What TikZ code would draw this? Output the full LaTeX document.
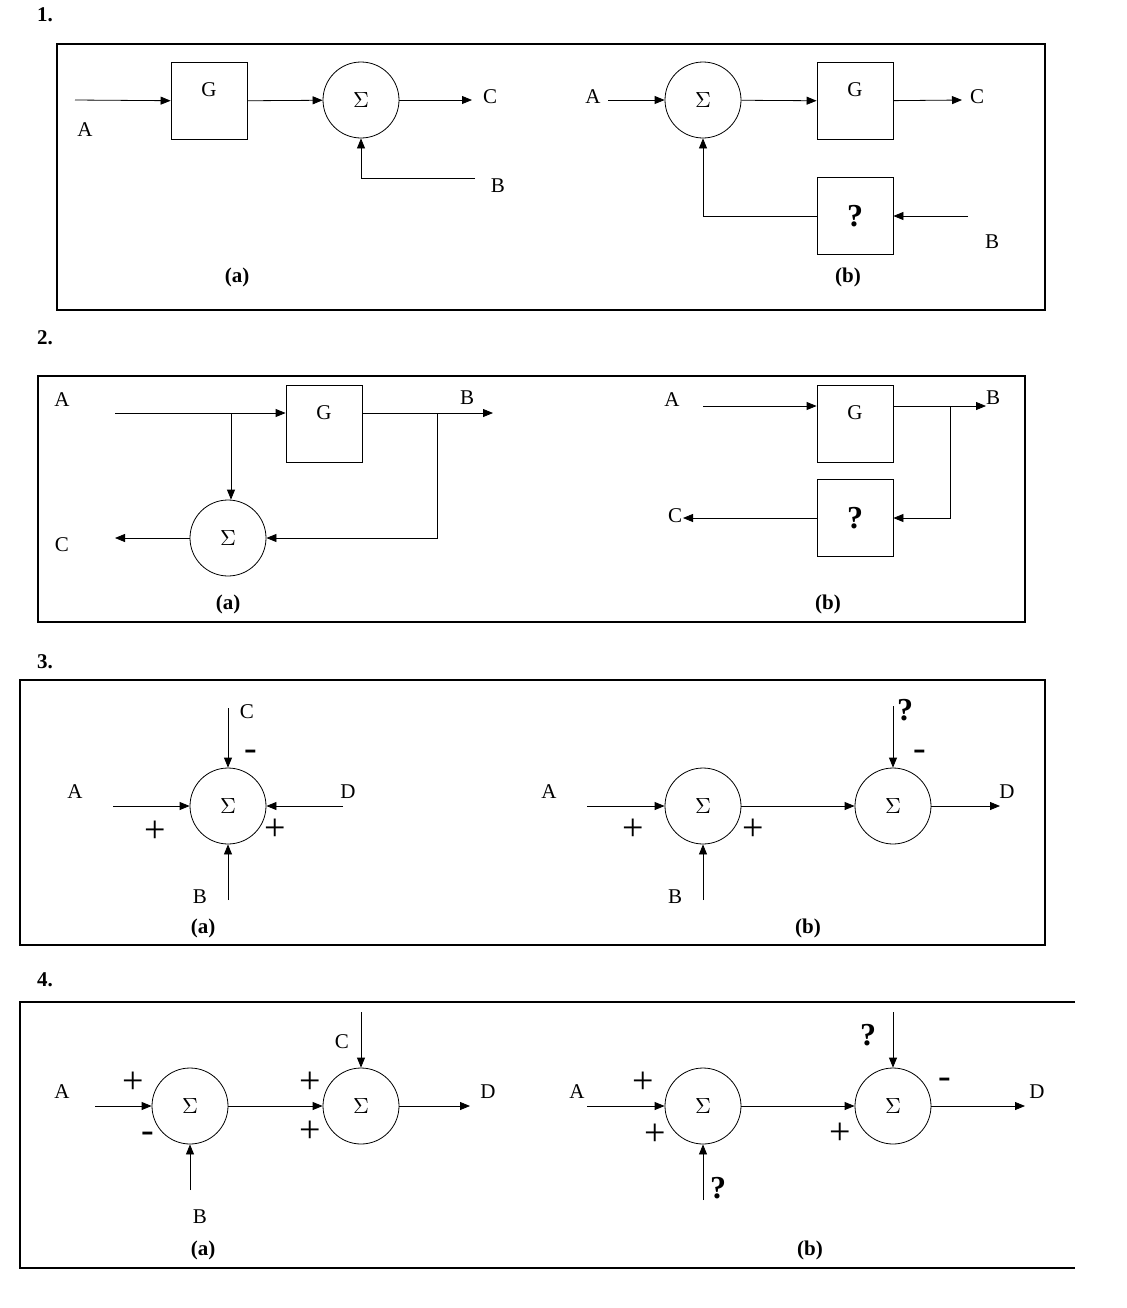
\documentclass[tikz,border=0pt]{standalone}
\usepackage{fontspec}
\setmainfont{Liberation Serif}
\usetikzlibrary{arrows.meta}
\begin{document}
\begin{tikzpicture}[x=0.5pt,y=-0.5pt,
 every node/.style={font=\fontsize{10.5}{12}\selectfont},
 blk/.style={draw,minimum width=38pt,minimum height=38.5pt,inner sep=0pt},
 gblk/.style={blk,text depth=0pt,label={[font=\fontsize{10.5}{12}\selectfont,yshift=-21pt]above:G}},
 sum/.style={draw,circle,minimum size=38pt,inner sep=0pt},
 ar/.style={-{Triangle[length=5pt,width=4pt]}},
 lbl/.style={font=\fontsize{10.5}{12}\selectfont\bfseries},
 pm/.style={font=\fontsize{19}{19}\selectfont,inner sep=0pt},
 q/.style={font=\fontsize{16}{16}\selectfont\bfseries,inner sep=0pt},
 frame/.style={draw,line width=0.6pt}]
\useasboundingbox (0,0) rectangle (1126,1308);
% ---- 1
\node[lbl] (n1) at (45,15) {1.};
\draw[frame] (57,44) rectangle (1045,310);
\node[gblk] (g1) at (209,101) {};
\node[sum] (s1) at (361,100) {$\Sigma$};
\coordinate (a1) at (75,100); \node (la1) at (85,130) {A};
\draw[ar] (a1) -- (g1);
\draw[ar] (g1) -- (s1);
\coordinate (c1) at (472,100); \node (lc1) at (490,97) {C};
\draw[ar] (s1) -- (c1);
\coordinate (b1) at (475,178); \node (lb1) at (498,186) {B};
\draw[ar] (b1) -| (s1.south);
\node[lbl] (ca1) at (237,277) {(a)};
\node (la2) at (593,97) {A};
\coordinate (a2) at (608,100);
\node[sum] (s2) at (703,100) {$\Sigma$};
\node[gblk] (g2) at (855,101) {};
\node[blk] (q2) at (855,216) {\fontsize{16}{16}\selectfont\bfseries ?};
\draw[ar] (a2) -- (s2);
\draw[ar] (s2) -- (g2);
\coordinate (c2) at (962,100); \node (lc2) at (977,97) {C};
\draw[ar] (g2) -- (c2);
\coordinate (b2) at (968,216); \node (lb2) at (992,242) {B};
\draw[ar] (b2) -- (q2);
\draw[ar] (q2) -| (s2.south);
\node[lbl] (cb1) at (848,277) {(b)};
% ---- 2
\node[lbl] (n2) at (45,338) {2.};
\draw[frame] (38,376) rectangle (1025,622);
\node (la3) at (62,400) {A};
\coordinate (a3) at (115,413);
\node[gblk] (g3) at (324,424) {};
\coordinate (j3) at (231,413);
\coordinate (k3) at (437,413);
\node[sum] (s3) at (228,538) {$\Sigma$};
\draw[ar] (a3) -- (g3.west|-a3);
\coordinate (b3) at (493,413); \node (lb3) at (467,398) {B};
\draw[ar] (g3.east|-a3) -- (b3);
\draw[ar] (j3) -- (j3|-s3.north);
\draw[ar] (k3) |- (s3);
\coordinate (c3) at (115,538); \node (lc3) at (62,545) {C};
\draw[ar] (s3) -- (c3);
\node[lbl] (ca2) at (228,604) {(a)};
\node (la4) at (672,400) {A};
\coordinate (a4) at (703,406);
\node[gblk] (g4) at (855,424) {};
\node[blk] (q4) at (855,518) {\fontsize{16}{16}\selectfont\bfseries ?};
\draw[ar] (a4) -- (g4.west|-a4);
\coordinate (b4) at (986,406); \node (lb4) at (993,398) {B};
\draw[ar] (g4.east|-a4) -- (b4);
\coordinate (j4) at (950,406);
\draw[ar] (j4) |- (q4);
\coordinate (c4) at (683,518); \node (lc4) at (675,516) {C};
\draw[ar] (q4) -- (c4);
\node[lbl] (cb2) at (828,604) {(b)};
% ---- 3
\node[lbl] (n3) at (45,662) {3.};
\draw[frame] (20,680) rectangle (1045,945);
\node[sum] (s5) at (228,806) {$\Sigma$};
\coordinate (c5) at (228,708); \node (lc5) at (247,712) {C};
\draw[ar] (c5) -- (s5);
\node[pm] (m5) at (251,755) {-};
\coordinate (a5) at (113,806); \node (la5) at (75,792) {A};
\draw[ar] (a5) -- (s5);
\node[pm] (p5a) at (155,832) {+};
\coordinate (d5) at (343,806); \node (ld5) at (348,792) {D};
\draw[ar] (d5) -- (s5);
\node[pm] (p5b) at (275,830) {+};
\coordinate (b5) at (228,900); \node (lb5) at (200,897) {B};
\draw[ar] (b5) -- (s5);
\node[lbl] (ca3) at (203,928) {(a)};
\node (la6) at (549,792) {A};
\coordinate (a6) at (587,806);
\node[sum] (s6) at (703,806) {$\Sigma$};
\node[sum] (s7) at (893,806) {$\Sigma$};
\draw[ar] (a6) -- (s6);
\node[pm] (p6a) at (633,830) {+};
\node[pm] (p6b) at (753,830) {+};
\coordinate (b6) at (703,900); \node (lb6) at (675,897) {B};
\draw[ar] (b6) -- (s6);
\draw[ar] (s6) -- (s7);
\coordinate (q7) at (893,706); \node[q] (lq7) at (905,710) {?};
\draw[ar] (q7) -- (s7);
\node[pm] (m7) at (920,755) {-};
\coordinate (d7) at (1000,806); \node (ld7) at (1007,792) {D};
\draw[ar] (s7) -- (d7);
\node[lbl] (cb3) at (808,928) {(b)};
% ---- 4
\node[lbl] (n4) at (45,980) {4.};
\draw[line width=0.6pt] (1075,1002) -- (20,1002) -- (20,1268) -- (1075,1268);
\node (la8) at (62,1092) {A};
\coordinate (a8) at (95,1106);
\node[sum] (s8) at (190,1106) {$\Sigma$};
\node[sum] (s9) at (361,1106) {$\Sigma$};
\draw[ar] (a8) -- (s8);
\node[pm] (p8a) at (133,1083) {+};
\node[pm] (m8) at (148,1137) {-};
\coordinate (b8) at (190,1190); \node (lb8) at (200,1217) {B};
\draw[ar] (b8) -- (s8);
\draw[ar] (s8) -- (s9);
\node[pm] (p9a) at (310,1083) {+};
\node[pm] (p9b) at (310,1132) {+};
\coordinate (c9) at (361,1012); \node (lc9) at (342,1042) {C};
\draw[ar] (c9) -- (s9);
\coordinate (d9) at (470,1106); \node (ld9) at (488,1092) {D};
\draw[ar] (s9) -- (d9);
\node[lbl] (ca4) at (203,1250) {(a)};
\node (la10) at (577,1092) {A};
\coordinate (a10) at (587,1106);
\node[sum] (s10) at (703,1106) {$\Sigma$};
\node[sum] (s11) at (893,1106) {$\Sigma$};
\draw[ar] (a10) -- (s10);
\node[pm] (p10a) at (643,1083) {+};
\node[pm] (p10b) at (655,1135) {+};
\coordinate (q10) at (703,1200); \node[q] (lq10) at (718,1188) {?};
\draw[ar] (q10) -- (s10);
\draw[ar] (s10) -- (s11);
\node[pm] (p11) at (840,1134) {+};
\coordinate (q11) at (893,1012); \node[q] (lq11) at (868,1035) {?};
\draw[ar] (q11) -- (s11);
\node[pm] (m11) at (945,1083) {-};
\coordinate (d11) at (1025,1106); \node (ld11) at (1037,1092) {D};
\draw[ar] (s11) -- (d11);
\node[lbl] (cb4) at (810,1250) {(b)};
\end{tikzpicture}
\end{document}
